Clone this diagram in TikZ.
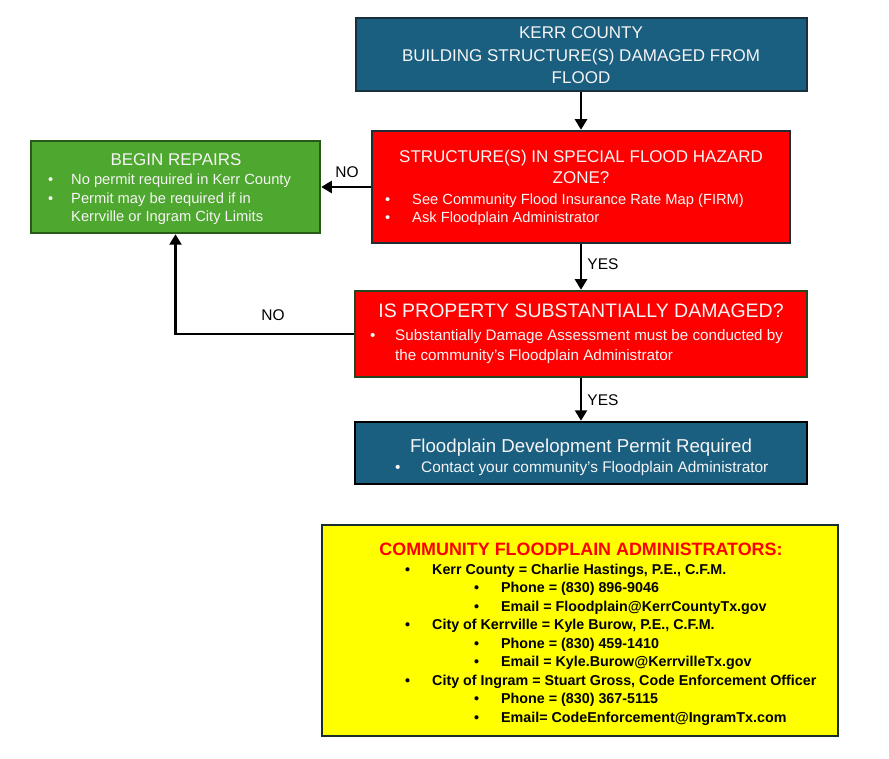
\documentclass[tikz,border=0pt]{standalone}
\usepackage{fontspec}
\setmainfont{Liberation Sans}
\usetikzlibrary{arrows.meta}
\definecolor{kblue}{RGB}{26,94,128}
\definecolor{kblueb}{RGB}{22,48,62}
\definecolor{kgreen}{RGB}{78,167,46}
\definecolor{kgreenb}{RGB}{40,90,25}
\definecolor{kred}{RGB}{255,0,0}
\definecolor{kredb}{RGB}{32,45,50}
\definecolor{kredb2}{RGB}{40,70,30}
\definecolor{kyel}{RGB}{255,255,0}
\definecolor{kyelb}{RGB}{25,45,45}
\definecolor{kwhite}{RGB}{245,245,245}
\tikzset{
  box/.style={draw, line width=2.5pt, rectangle, inner sep=0pt},
  wt/.style={anchor=base, inner sep=0pt, text=kwhite},
  wtl/.style={anchor=base west, inner sep=0pt, text=kwhite},
  bk/.style={anchor=base west, inner sep=0pt, text=black, font=\bfseries\fontsize{14.3}{16}\selectfont},
  arr/.style={draw=black, line width=2.4pt, -{Triangle[width=12pt,length=10.5pt]}},
  lbl/.style={anchor=base, inner sep=0pt, text=black, font=\fontsize{15.5}{17}\selectfont},
  big/.style={font=\fontsize{17}{20}\selectfont},
  small/.style={font=\fontsize{14.7}{16}\selectfont},
}
\begin{document}
\begin{tikzpicture}[x=1pt,y=-1pt]
\useasboundingbox (0,0) rectangle (889,759);
% boxes
\node[box, fill=kblue, draw=kblueb, minimum width=451, minimum height=73] (top) at (581.5,54.5) {};
\node[box, fill=kred, draw=kredb, minimum width=418, minimum height=112] (zone) at (581,187) {};
\node[box, fill=kgreen, draw=kgreenb, minimum width=289, minimum height=92] (repairs) at (175.5,187) {};
\node[box, fill=kred, draw=kredb2, minimum width=452, minimum height=86] (subst) at (581,334) {};
\node[box, fill=kblue, draw=black, minimum width=452, minimum height=62] (permit) at (581,453) {};
\node[box, fill=kyel, draw=kyelb, minimum width=516, minimum height=211] (admins) at (580,630.5) {};
% top text
\node[wt, big] (t1) at (581,39) {KERR COUNTY};
\node[wt, big] (t2) at (581,62) {BUILDING STRUCTURE(S) DAMAGED FROM};
\node[wt, big] (t3) at (581,84) {FLOOD};
% zone text
\node[wt, big] (z1) at (581,163) {STRUCTURE(S) IN SPECIAL FLOOD HAZARD};
\node[wt, big] (z2) at (581,184) {ZONE?};
\node[wtl, small] (zb1) at (385,205) {•};
\node[wtl, small] (zt1) at (412,205) {See Community Flood Insurance Rate Map (FIRM)};
\node[wtl, small] (zb2) at (385,223) {•};
\node[wtl, small] (zt2) at (412,223) {Ask Floodplain Administrator};
% repairs text
\node[wt, big] (r1) at (176,166) {BEGIN REPAIRS};
\node[wtl, small] (rb1) at (48,185) {•};
\node[wtl, small] (rt1) at (71,185) {No permit required in Kerr County};
\node[wtl, small] (rb2) at (48,204) {•};
\node[wtl, small] (rt2) at (71,204) {Permit may be required if in};
\node[wtl, small] (rt3) at (71,222) {Kerrville or Ingram City Limits};
% subst text
\node[wt, font=\fontsize{19.5}{22}\selectfont] (s1) at (581,318) {IS PROPERTY SUBSTANTIALLY DAMAGED?};
\node[wtl, font=\fontsize{15.2}{17}\selectfont] (sb1) at (370,341) {•};
\node[wtl, font=\fontsize{15.2}{17}\selectfont] (st1) at (395,341) {Substantially Damage Assessment must be conducted by};
\node[wtl, font=\fontsize{15.2}{17}\selectfont] (st2) at (395,360) {the community’s Floodplain Administrator};
% permit text
\node[wt, font=\fontsize{18.7}{21}\selectfont] (p1) at (581,452) {Floodplain Development Permit Required};
\node[wtl, font=\fontsize{15.4}{17}\selectfont] (pb1) at (395,472) {•};
\node[wtl, font=\fontsize{15.4}{17}\selectfont] (pt1) at (421,472) {Contact your community’s Floodplain Administrator};
% admins text
\node[anchor=base, inner sep=0pt, text=kred, font=\bfseries\fontsize{17.9}{20}\selectfont] (a0) at (581,555) {COMMUNITY FLOODPLAIN ADMINISTRATORS:};
\node[bk] (ab1) at (405,574) {•};
\node[bk] (a1) at (432,574) {Kerr County = Charlie Hastings, P.E., C.F.M.};
\node[bk] (ab2) at (474,592) {•};
\node[bk] (a2) at (501,592) {Phone = (830) 896-9046};
\node[bk] (ab3) at (474,611) {•};
\node[bk] (a3) at (501,611) {Email = Floodplain@KerrCountyTx.gov};
\node[bk] (ab4) at (405,629) {•};
\node[bk] (a4) at (432,629) {City of Kerrville = Kyle Burow, P.E., C.F.M.};
\node[bk] (ab5) at (474,648) {•};
\node[bk] (a5) at (501,648) {Phone = (830) 459-1410};
\node[bk] (ab6) at (474,666) {•};
\node[bk] (a6) at (501,666) {Email = Kyle.Burow@KerrvilleTx.gov};
\node[bk] (ab7) at (405,685) {•};
\node[bk] (a7) at (432,685) {City of Ingram = Stuart Gross, Code Enforcement Officer};
\node[bk] (ab8) at (474,703) {•};
\node[bk] (a8) at (501,703) {Phone = (830) 367-5115};
\node[bk] (ab9) at (474,722) {•};
\node[bk] (a9) at (501,722) {Email= CodeEnforcement@IngramTx.com};
% connectors
\draw[arr] (top.south -| zone.north) -- (zone.north);
\draw[arr] (zone.west) -- (repairs.east);
\draw[arr] (zone.south) -- (subst.north);
\draw[arr] (subst.west) -| (repairs.south);
\draw[arr] (subst.south) -- (permit.north);
% labels
\node[lbl] (no1) at (347,178) {NO};
\node[lbl] (yes1) at (603,270) {YES};
\node[lbl] (no2) at (273,320) {NO};
\node[lbl] (yes2) at (603,405) {YES};
\end{tikzpicture}
\end{document}
